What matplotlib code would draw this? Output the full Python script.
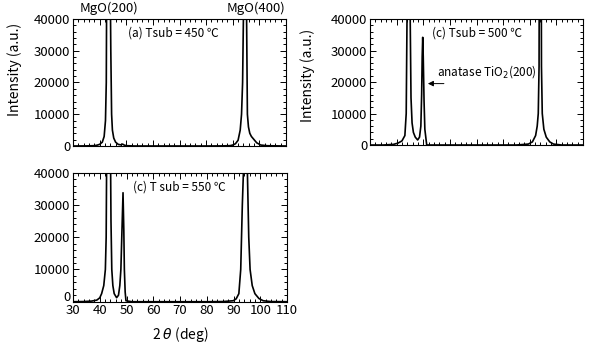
import matplotlib
matplotlib.use('Agg')
import matplotlib.pyplot as plt
from matplotlib.ticker import MultipleLocator
from matplotlib.transforms import ScaledTranslation

plt.rcParams['font.family'] = ['Noto Sans CJK JP', 'DejaVu Sans']

# XRD scans (2theta in deg, intensity in a.u.)
# Tsub = 450 C
x_450 = [30, 35, 38, 39, 40, 41, 41.7, 42.2, 42.5, 42.7, 43.3, 43.9, 44.2, 44.5,
         44.8, 45.3, 46, 47, 48, 48.6, 49.2, 50, 53, 60, 70, 80, 86, 89, 90, 91,
         92, 92.8, 93.3, 93.7, 94.0, 94.3, 94.6, 94.9, 95.2, 95.5, 95.9, 96.4,
         97, 98, 99, 100.5, 103, 110]
y_450 = [0, 30, 100, 250, 500, 1200, 3000, 8000, 20000, 60000, 150000, 60000,
         30000, 10000, 5000, 2500, 1200, 500, 350, 600, 300, 100, 0, 0, 0, 0,
         30, 100, 300, 700, 1800, 5000, 10000, 20000, 40000, 90000, 150000,
         90000, 40000, 10000, 6000, 4000, 3000, 2000, 1000, 300, 80, 0]

# Tsub = 500 C
x_500 = [30, 35, 38.8, 40.5, 42, 43.1, 43.6, 43.9, 44.5, 45.1, 45.4, 45.8,
         46.3, 47, 47.9, 48.6, 49.1, 49.4, 49.6, 49.8, 50.0, 50.3, 50.6, 51.3,
         55, 65, 75, 85, 89.5, 91, 92.2, 92.8, 93.2, 93.5, 93.8, 94.1, 94.4,
         94.7, 95.3, 96.2, 97.5, 98.9, 102, 110]
y_500 = [0, 0, 200, 600, 1300, 3000, 10000, 40000, 150000, 40000, 15000, 7000,
         4000, 2500, 1600, 2500, 6000, 16000, 28000, 34200, 28000, 14000, 5000,
         0, 0, 0, 0, 0, 300, 1000, 3000, 6000, 10000, 25000, 150000, 150000,
         25000, 10000, 5000, 2500, 1000, 300, 0, 0]

# Tsub = 550 C
x_550 = [30, 33.9, 37, 38.9, 40, 40.7, 41.5, 42.1, 42.4, 42.7, 43.3, 43.9,
         44.2, 44.5, 44.9, 45.4, 46.3, 47, 47.5, 47.9, 48.3, 48.7, 49.0, 49.2,
         49.5, 49.8, 52, 60, 70, 80, 86, 89.9, 91, 92, 92.7, 93.3, 93.7, 94.1,
         94.5, 94.9, 95.2, 95.7, 96.2, 97, 98, 99.5, 101.1, 104, 110]
y_550 = [0, 50, 200, 500, 1200, 2500, 5000, 10000, 20000, 60000, 150000, 60000,
         25000, 10000, 5000, 2500, 1250, 2000, 5000, 10000, 22000, 33800, 22000,
         10000, 3000, 300, 0, 0, 0, 0, 50, 300, 900, 2500, 10000, 30000, 40000,
         150000, 150000, 150000, 40000, 20000, 10000, 5000, 2500, 1000, 300, 50, 0]

ytick_vals = [0, 10000, 20000, 30000, 40000]
xtick_vals = [30, 40, 50, 60, 70, 80, 90, 100, 110]


def estilo_eixo(ax, mostrar_x):
    ax.set_xlim(30, 110)
    ax.set_ylim(0, 40000)
    ax.set_yticks(ytick_vals)
    ax.set_xticks(xtick_vals)
    ax.xaxis.set_minor_locator(MultipleLocator(2))
    ax.yaxis.set_minor_locator(MultipleLocator(2000))
    ax.tick_params(which='both', direction='in', top=True, right=True,
                   width=0.7, labelsize=9.5, pad=2)
    ax.tick_params(which='major', length=4)
    ax.tick_params(which='minor', length=2)
    if not mostrar_x:
        ax.tick_params(labelbottom=False)
    for s in ax.spines.values():
        s.set_linewidth(0.8)


fig = plt.figure(figsize=(5.91, 3.48), dpi=100)
ax_a = fig.add_axes([73 / 591, 0.5805, 213 / 591, 0.365])
ax_b = fig.add_axes([370 / 591, 0.5833, 213 / 591, 0.362])
ax_c = fig.add_axes([73 / 591, 0.1330, 214 / 591, 0.3707])

ax_a.plot(x_450, y_450, color='black', lw=1.2)
ax_b.plot(x_500, y_500, color='black', lw=1.2)
ax_c.plot(x_550, y_550, color='black', lw=1.2)

estilo_eixo(ax_a, False)
estilo_eixo(ax_b, False)
estilo_eixo(ax_c, True)

# lift the "0" label of the lower panel a little, as in the original
t0 = ax_c.yaxis.get_major_ticks()[0].label1
t0.set_transform(t0.get_transform() + ScaledTranslation(0, 4 / 72, fig.dpi_scale_trans))

ax_a.set_ylabel('Intensity (a.u.)', fontsize=10)
ax_a.yaxis.set_label_coords(-0.24, 0.6)
ax_b.set_ylabel('Intensity (a.u.)', fontsize=10)
ax_b.yaxis.set_label_coords(-0.258, 0.55)
ax_c.set_xlabel('2 $\\theta$ (deg)', fontsize=10)
ax_c.xaxis.set_label_coords(0.5, -0.18)

ax_a.text(43.5, 41200, 'MgO(200)', ha='center', va='bottom', fontsize=9.5, clip_on=False)
ax_a.text(98.7, 41200, 'MgO(400)', ha='center', va='bottom', fontsize=9.5, clip_on=False)

ax_a.text(50.7, 35600, '(a) Tsub = 450 ℃', va='center', fontsize=8.5)
ax_b.text(53.2, 35500, '(c) Tsub = 500 ℃', va='center', fontsize=8.5)
ax_c.text(52.5, 35500, '(c) T sub = 550 ℃', va='center', fontsize=8.5)

ax_b.text(55.0, 23300, 'anatase TiO$_2$(200)', va='center', fontsize=8.5)
ax_b.annotate('', xy=(50.7, 19500), xytext=(58.8, 19500),
              arrowprops=dict(arrowstyle='-|>', color='black', lw=0.7,
                              mutation_scale=8))

fig.savefig('out.png', dpi=100)
